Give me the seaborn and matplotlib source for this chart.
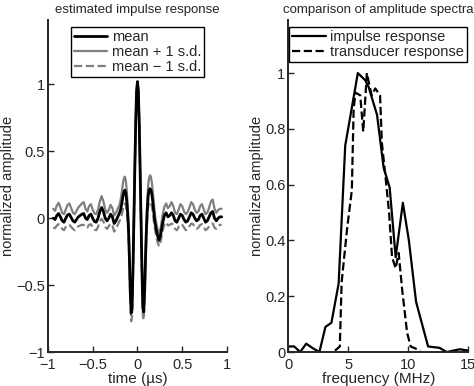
import numpy as np
import matplotlib
matplotlib.use("Agg")
import matplotlib.pyplot as plt
import seaborn as sns

# time axis (µs): coarse tails, fine sampling around the pulse
t_left = np.round(np.arange(-0.94, -0.21, 0.02), 2)
t_mid = np.round(np.arange(-0.20, 0.205, 0.01), 2)
t_right = np.round(np.arange(0.22, 0.95, 0.02), 2)
time_us = np.concatenate([t_left, t_mid, t_right])

mean_left = [0.00, -0.01, 0.02, 0.035, 0.01, -0.02, -0.03, 0.00, 0.025, 0.03,
             0.005, -0.02, -0.03, -0.01, 0.01, 0.02, 0.03, 0.035, 0.00, -0.01,
             0.02, 0.03, 0.00, -0.025, -0.03, 0.00, 0.05, 0.08, 0.05, 0.00,
             -0.02, 0.00, 0.03, 0.01, -0.04, -0.02, 0.01]
mean_mid = [0.04, 0.06, 0.09, 0.13, 0.17, 0.20, 0.21, 0.19, 0.13, 0.04,
            -0.08, -0.30, -0.56, -0.71, -0.67, -0.38, -0.02, 0.35, 0.70, 0.95,
            1.02, 0.95, 0.70, 0.35, -0.02, -0.38, -0.67, -0.70, -0.55, -0.30,
            -0.08, 0.07, 0.17, 0.21, 0.22, 0.21, 0.18, 0.13, 0.06, 0.00, -0.05]
mean_right = [-0.12, -0.165, -0.12, -0.04, 0.02, 0.04, 0.01, 0.02, 0.04, 0.02,
              -0.02, -0.03, 0.00, 0.03, 0.02, -0.01, -0.03, -0.02, 0.01, 0.04,
              0.03, 0.00, -0.02, -0.01, 0.02, 0.03, 0.00, -0.03, -0.02, 0.01,
              0.04, 0.05, 0.00, -0.02, 0.00, 0.01, 0.01]

sd_left = [0.07, 0.065, 0.075, 0.08, 0.07, 0.06, 0.06, 0.065, 0.075, 0.08,
           0.07, 0.06, 0.06, 0.065, 0.07, 0.075, 0.08, 0.085, 0.07, 0.06,
           0.07, 0.075, 0.065, 0.06, 0.06, 0.065, 0.075, 0.085, 0.075, 0.065,
           0.06, 0.06, 0.07, 0.065, 0.06, 0.06, 0.06]
sd_mid = [0.06, 0.07, 0.08, 0.09, 0.10, 0.10, 0.10, 0.09, 0.08, 0.06,
          0.05, 0.04, 0.04, 0.06, 0.06, 0.04, 0.02, 0.01, 0.01, 0.01,
          0.00, 0.01, 0.01, 0.01, 0.02, 0.04, 0.06, 0.06, 0.04, 0.04,
          0.05, 0.06, 0.08, 0.09, 0.10, 0.10, 0.09, 0.08, 0.07, 0.06, 0.05]
sd_right = [0.05, 0.045, 0.05, 0.06, 0.065, 0.07, 0.065, 0.07, 0.08, 0.07,
            0.06, 0.06, 0.065, 0.075, 0.07, 0.06, 0.06, 0.065, 0.07, 0.08,
            0.075, 0.065, 0.06, 0.06, 0.07, 0.075, 0.065, 0.06, 0.06, 0.07,
            0.085, 0.09, 0.07, 0.06, 0.06, 0.06, 0.06]

mean_resp = np.array(mean_left + mean_mid + mean_right)
sd_resp = np.array(sd_left + sd_mid + sd_right)

# amplitude spectra
freq_imp = [0.0, 0.5, 1.0, 1.5, 2.0, 2.6, 3.1, 3.6, 4.2, 4.75, 5.8, 6.4, 6.7,
            7.4, 7.95, 8.45, 8.95, 9.55, 10.05, 10.65, 11.65, 12.6, 13.2, 14.3, 15.0]
amp_imp = [0.02, 0.02, 0.0, 0.03, 0.015, 0.0, 0.09, 0.105, 0.245, 0.74, 1.0, 0.975, 0.95,
           0.85, 0.66, 0.59, 0.34, 0.535, 0.40, 0.18, 0.02, 0.015, 0.0, 0.01, 0.005]
freq_trans = [3.9, 4.3, 4.45, 4.9, 5.3, 5.45, 5.6, 6.0, 6.25, 6.55, 6.95, 7.25, 7.65,
              7.8, 8.1, 8.4, 8.65, 8.95, 9.2, 9.5, 9.9, 10.2, 11.0]
amp_trans = [0.005, 0.02, 0.25, 0.44, 0.58, 0.87, 0.93, 0.92, 0.79, 1.0, 0.92, 0.945, 0.92,
             0.75, 0.63, 0.5, 0.34, 0.30, 0.355, 0.22, 0.07, 0.02, 0.005]

sns.set_style("ticks")
plt.rcParams['font.family'] = ['Liberation Sans', 'DejaVu Sans']
plt.rcParams['axes.linewidth'] = 1.4

fig = plt.figure(figsize=(4.74, 3.86), dpi=100)
ax1 = fig.add_axes([0.101, 0.088, 0.378, 0.860])
ax2 = fig.add_axes([0.608, 0.088, 0.380, 0.860])

gray = "#7f7f7f"
sns.lineplot(x=time_us, y=mean_resp + sd_resp, ax=ax1, color=gray, lw=1.6,
             label="mean + 1 s.d.", sort=False, estimator=None)
sns.lineplot(x=time_us, y=mean_resp - sd_resp, ax=ax1, color=gray, lw=1.6,
             linestyle="--", dashes=(3, 2.5), label="mean \u2212 1 s.d.", sort=False, estimator=None)
sns.lineplot(x=time_us, y=mean_resp, ax=ax1, color="black", lw=2.0,
             label="mean", sort=False, estimator=None)
h, l = ax1.get_legend_handles_labels()
order = [2, 0, 1]
ax1.legend([h[i] for i in order], [l[i] for i in order], loc="upper center",
           bbox_to_anchor=(0.5, 1.0), fontsize=10.5, frameon=True, fancybox=False,
           edgecolor="black", framealpha=1, handlelength=2.3, borderpad=0.2,
           labelspacing=0.05, handletextpad=0.3)
ax1.set_xlim(-1, 1)
ax1.set_ylim(-1, 1.48)
ax1.set_xticks([-1, -0.5, 0, 0.5, 1])
ax1.set_xticklabels(["\u22121", "\u22120.5", "0", "0.5", "1"])
ax1.set_yticks([-1, -0.5, 0, 0.5, 1])
ax1.set_yticklabels(["\u22121", "\u22120.5", "0", "0.5", "1"])
ax1.set_xlabel("time (\u00b5s)", fontsize=11, labelpad=0)
ax1.set_ylabel("normalized amplitude", fontsize=10.5, labelpad=1)
ax1.set_title("estimated impulse response", fontsize=9.5, pad=5)

sns.lineplot(x=freq_imp, y=amp_imp, ax=ax2, color="black", lw=1.6,
             label="impulse response", sort=False, estimator=None)
sns.lineplot(x=freq_trans, y=amp_trans, ax=ax2, color="black", lw=1.6,
             linestyle="--", dashes=(3, 2.5), label="transducer response", sort=False, estimator=None)
ax2.legend(loc="upper center", bbox_to_anchor=(0.5, 1.0), fontsize=10.5, frameon=True,
           fancybox=False, edgecolor="black", framealpha=1, handlelength=2.3,
           borderpad=0.2, labelspacing=0.05, handletextpad=0.3)
ax2.set_xlim(0, 15)
ax2.set_ylim(0, 1.19)
ax2.set_xticks([0, 5, 10, 15])
ax2.set_yticks([0, 0.2, 0.4, 0.6, 0.8, 1])
ax2.set_yticklabels(["0", "0.2", "0.4", "0.6", "0.8", "1"])
ax2.set_xlabel("frequency (MHz)", fontsize=11, labelpad=0)
ax2.set_ylabel("normalized amplitude", fontsize=10.5, labelpad=1)
ax2.set_title("comparison of amplitude spectra", fontsize=9.5, pad=5)

for ax in (ax1, ax2):
    sns.despine(ax=ax)
    ax.tick_params(direction="in", length=4, width=1, labelsize=10.5, pad=2)
    ax.tick_params(axis="x", pad=4)

fig.savefig("out.png", dpi=100)
